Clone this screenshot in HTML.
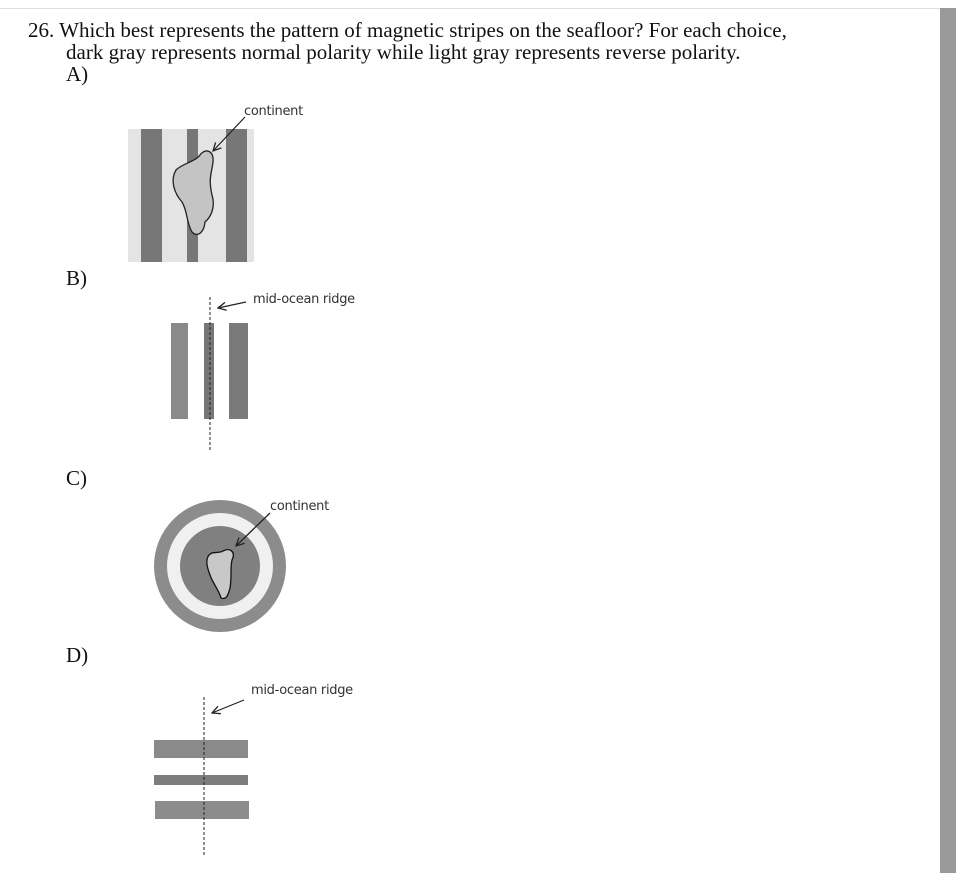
<!DOCTYPE html>
<html><head><meta charset="utf-8"><style>
body{margin:0;width:956px;height:873px;background:#fff;position:relative;overflow:hidden;font-family:"Liberation Serif",serif;color:#111}
.t{position:absolute;font-size:21px;white-space:nowrap}
.s{position:absolute;font-family:"DejaVu Sans","Liberation Sans",sans-serif;font-size:13px;color:#333;letter-spacing:-0.3px}
</style></head><body>
<div style="position:absolute;left:0;top:8px;width:940px;height:1px;background:#ddd"></div>
<div style="position:absolute;left:940px;top:8px;width:16px;height:865px;background:#999"></div>
<div class="t" style="left:28px;top:18px">26. Which best represents the pattern of magnetic stripes on the seafloor? For each choice,</div>
<div class="t" style="left:66px;top:40px">dark gray represents normal polarity while light gray represents reverse polarity.</div>
<div class="t" style="left:66px;top:62px">A)</div>
<div class="t" style="left:66px;top:266px">B)</div>
<div class="t" style="left:66px;top:466px">C)</div>
<div class="t" style="left:66px;top:643px">D)</div>
<div class="s" style="left:244px;top:104px">continent</div>
<div class="s" style="left:253px;top:292px">mid-ocean ridge</div>
<div class="s" style="left:270px;top:499px">continent</div>
<div class="s" style="left:251px;top:683px">mid-ocean ridge</div>
<svg width="956" height="873" style="position:absolute;left:0;top:0">
<defs><marker id="a" markerWidth="10" markerHeight="10" refX="9" refY="5" orient="auto" markerUnits="userSpaceOnUse"><path d="M1,1 L9,5 L1,9" fill="none" stroke="#222" stroke-width="1.3"/></marker></defs>
<!-- A -->
<rect x="128" y="129" width="126" height="133" fill="#e4e4e4"/>
<rect x="141" y="129" width="21" height="133" fill="#777"/>
<rect x="187" y="129" width="11" height="133" fill="#777"/>
<rect x="226" y="129" width="21" height="133" fill="#777"/>
<path d="M200,155 C205,148 214,150 213,162 C212,172 208,178 212,195 C216,208 210,218 205,222 C204,232 198,238 192,232 C186,222 188,212 182,202 C174,193 170,180 176,170 C183,163 195,162 200,155Z" fill="#c4c4c4" stroke="#222" stroke-width="1.3"/>
<line x1="245" y1="117" x2="213" y2="151" stroke="#222" stroke-width="1.2" marker-end="url(#a)"/>
<!-- B -->
<rect x="171" y="323" width="17" height="96" fill="#8a8a8a"/>
<rect x="204" y="323" width="10" height="96" fill="#777"/>
<rect x="229" y="323" width="19" height="96" fill="#7a7a7a"/>
<line x1="210" y1="297" x2="210" y2="452" stroke="#222" stroke-dasharray="3,2"/>
<line x1="246" y1="302" x2="218" y2="308" stroke="#222" stroke-width="1.2" marker-end="url(#a)"/>
<!-- C -->
<circle cx="220" cy="566" r="66" fill="#8c8c8c"/>
<circle cx="220" cy="566" r="53" fill="#f0f0f0"/>
<circle cx="220" cy="566" r="40" fill="#808080"/>
<path d="M223,551 C230,547 236,552 232,560 C230,568 232,578 230,588 C228,596 226,600 221,598 C218,588 213,584 210,575 C206,565 205,556 212,553 C216,552 220,553 223,551Z" fill="#c8c8c8" stroke="#111" stroke-width="1.3"/>
<line x1="270" y1="513" x2="236" y2="546" stroke="#222" stroke-width="1.3" marker-end="url(#a)"/>
<!-- D -->
<rect x="154" y="740" width="94" height="18" fill="#8a8a8a"/>
<rect x="154" y="775" width="94" height="10" fill="#7d7d7d"/>
<rect x="155" y="801" width="94" height="18" fill="#8c8c8c"/>
<line x1="204" y1="697" x2="204" y2="855" stroke="#222" stroke-dasharray="3,2"/>
<line x1="244" y1="700" x2="212" y2="713" stroke="#222" stroke-width="1.2" marker-end="url(#a)"/>
</svg>
</body></html>
